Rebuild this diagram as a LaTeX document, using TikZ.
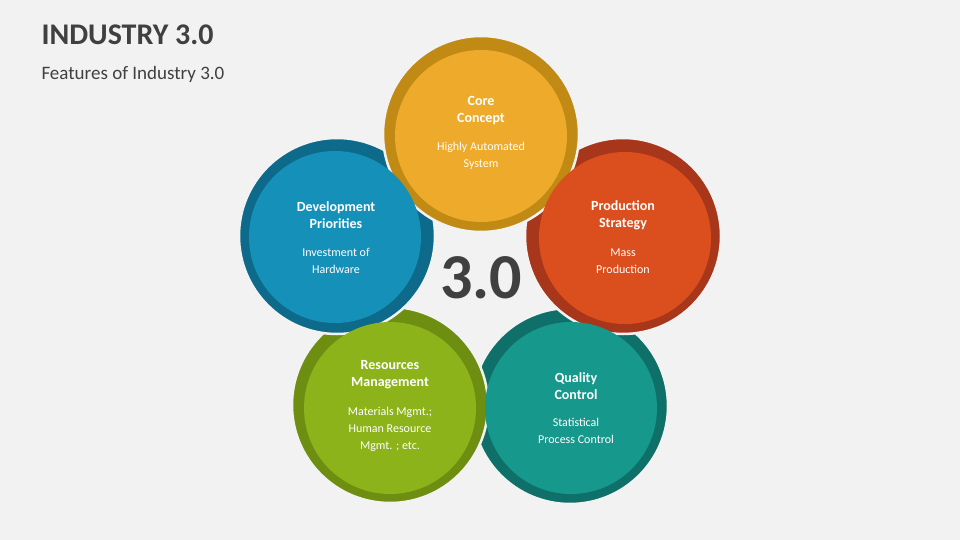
\documentclass[tikz,border=0pt]{standalone}
\usepackage{fontspec}
\setmainfont{Carlito}
\begin{document}
\begin{tikzpicture}[x=1pt,y=-1pt,
  outer/.style={circle,minimum size=196pt,inner sep=0pt,draw=bg,line width=2.5pt},
  inner/.style={circle,minimum size=172pt,inner sep=0pt},
  lbl/.style={text=white,align=center,font=\fontsize{14}{17}\selectfont\bfseries},
  sub/.style={text=white,align=center,font=\fontsize{12}{17}\selectfont}]
\definecolor{bg}{HTML}{F2F2F2}
\definecolor{dk}{HTML}{404040}
\definecolor{co}{HTML}{C08A14}\definecolor{ci}{HTML}{EEAA2A}
\definecolor{po}{HTML}{A8361A}\definecolor{pi}{HTML}{DB4F1E}
\definecolor{do}{HTML}{0E6A8A}\definecolor{di}{HTML}{1590B8}
\definecolor{ro}{HTML}{6E8E12}\definecolor{ri}{HTML}{8DB31A}
\definecolor{qo}{HTML}{0E7068}\definecolor{qi}{HTML}{17988C}
\fill[bg] (0,0) rectangle (960,540);
\useasboundingbox (0,0) rectangle (960,540);
\node[anchor=west,text=dk,font=\fontsize{30}{30}\selectfont\bfseries] (t) at (38,35) {INDUSTRY 3.0};
\node[anchor=west,text=dk,font=\fontsize{19}{19}\selectfont] (s) at (38,74) {Features of Industry 3.0};
% rings
\node[outer,fill=qo] (qO) at (570,406) {};
\node[outer,fill=ro] (rO) at (390,405) {};
\node[outer,fill=do] (dO) at (337,236) {};
\node[outer,fill=po] (pO) at (623,236) {};
\node[outer,fill=co] (cO) at (481,134) {};
% inner
\node[inner,fill=qi] (qI) at (571,408) {};
\node[inner,fill=ri] (rI) at (390,408) {};
\node[inner,fill=di] (dI) at (335,237) {};
\node[inner,fill=pi] (pI) at (625,238) {};
\node[inner,fill=ci] (cI) at (481,136) {};
\node[text=dk,font=\fontsize{64}{64}\selectfont\bfseries] (n) at (481,278) {3.0};
\node[lbl] (c1) at (481,111) {Core\\Concept};
\node[sub] (c2) at (481,156) {Highly Automated\\System};
\node[lbl] (p1) at (623,215) {Production\\Strategy};
\node[sub] (p2) at (623,261) {Mass\\Production};
\node[lbl] (d1) at (336,215) {Development\\Priorities};
\node[sub] (d2) at (336,261) {Investment of\\Hardware};
\node[lbl] (r1) at (390,375) {Resources\\Management};
\node[sub] (r2) at (390,429) {Materials Mgmt.;\\Human Resource\\Mgmt. ; etc.};
\node[lbl] (q1) at (576,386) {Quality\\Control};
\node[sub] (q2) at (576,431) {Statistical\\Process Control};
\end{tikzpicture}
\end{document}
